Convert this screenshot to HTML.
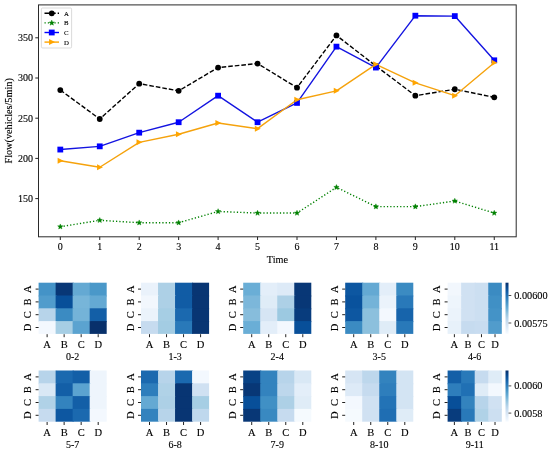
<!DOCTYPE html>
<html><head><meta charset="utf-8"><title>Flow chart</title>
<style>html,body{margin:0;padding:0;background:#fff;}svg{display:block}</style></head>
<body>
<svg width="550" height="452" viewBox="0 0 550 452">
<rect width="550" height="452" fill="#fff"/>
<g fill="none" stroke-width="1.4" stroke-linejoin="round">
<polyline points="60.30,90.06 99.75,119.00 139.20,83.63 178.65,90.86 218.10,67.55 257.55,63.53 297.00,87.65 336.45,35.39 375.90,65.94 415.35,95.69 454.80,89.26 494.25,97.30" stroke="#000" stroke-dasharray="4.6 2"/>
<polyline points="60.30,226.74 99.75,220.31 139.20,222.72 178.65,222.72 218.10,211.46 257.55,213.07 297.00,213.07 336.45,187.34 375.90,206.64 415.35,206.64 454.80,201.01 494.25,213.07" stroke="#008000" stroke-dasharray="1.25 2.06"/>
<polyline points="60.30,149.56 99.75,146.34 139.20,132.67 178.65,122.22 218.10,95.69 257.55,122.22 297.00,102.92 336.45,46.64 375.90,67.55 415.35,15.69 454.80,16.09 494.25,60.31" stroke="#1414e0"/>
<polyline points="60.30,160.81 99.75,167.24 139.20,142.32 178.65,134.28 218.10,123.02 257.55,128.65 297.00,99.71 336.45,90.86 375.90,64.33 415.35,82.82 454.80,95.69 494.25,62.72" stroke="#f5a20c"/>
</g>
<circle cx="60.30" cy="90.06" r="2.9000000000000004" fill="#000"/>
<circle cx="99.75" cy="119.00" r="2.9000000000000004" fill="#000"/>
<circle cx="139.20" cy="83.63" r="2.9000000000000004" fill="#000"/>
<circle cx="178.65" cy="90.86" r="2.9000000000000004" fill="#000"/>
<circle cx="218.10" cy="67.55" r="2.9000000000000004" fill="#000"/>
<circle cx="257.55" cy="63.53" r="2.9000000000000004" fill="#000"/>
<circle cx="297.00" cy="87.65" r="2.9000000000000004" fill="#000"/>
<circle cx="336.45" cy="35.39" r="2.9000000000000004" fill="#000"/>
<circle cx="375.90" cy="65.94" r="2.9000000000000004" fill="#000"/>
<circle cx="415.35" cy="95.69" r="2.9000000000000004" fill="#000"/>
<circle cx="454.80" cy="89.26" r="2.9000000000000004" fill="#000"/>
<circle cx="494.25" cy="97.30" r="2.9000000000000004" fill="#000"/>
<polygon points="60.30,223.94 61.04,225.72 62.96,225.87 61.50,227.13 61.95,229.01 60.30,228.00 58.65,229.01 59.10,227.13 57.64,225.87 59.56,225.72" fill="#008000" stroke="#008000" stroke-width="0.4" stroke-linejoin="miter"/>
<polygon points="99.75,217.51 100.49,219.29 102.41,219.44 100.95,220.70 101.40,222.57 99.75,221.57 98.10,222.57 98.55,220.70 97.09,219.44 99.01,219.29" fill="#008000" stroke="#008000" stroke-width="0.4" stroke-linejoin="miter"/>
<polygon points="139.20,219.92 139.94,221.70 141.86,221.85 140.40,223.11 140.85,224.99 139.20,223.98 137.55,224.99 138.00,223.11 136.54,221.85 138.46,221.70" fill="#008000" stroke="#008000" stroke-width="0.4" stroke-linejoin="miter"/>
<polygon points="178.65,219.92 179.39,221.70 181.31,221.85 179.85,223.11 180.30,224.99 178.65,223.98 177.00,224.99 177.45,223.11 175.99,221.85 177.91,221.70" fill="#008000" stroke="#008000" stroke-width="0.4" stroke-linejoin="miter"/>
<polygon points="218.10,208.66 218.84,210.44 220.76,210.60 219.30,211.85 219.75,213.73 218.10,212.72 216.45,213.73 216.90,211.85 215.44,210.60 217.36,210.44" fill="#008000" stroke="#008000" stroke-width="0.4" stroke-linejoin="miter"/>
<polygon points="257.55,210.27 258.29,212.05 260.21,212.21 258.75,213.46 259.20,215.34 257.55,214.33 255.90,215.34 256.35,213.46 254.89,212.21 256.81,212.05" fill="#008000" stroke="#008000" stroke-width="0.4" stroke-linejoin="miter"/>
<polygon points="297.00,210.27 297.74,212.05 299.66,212.21 298.20,213.46 298.65,215.34 297.00,214.33 295.35,215.34 295.80,213.46 294.34,212.21 296.26,212.05" fill="#008000" stroke="#008000" stroke-width="0.4" stroke-linejoin="miter"/>
<polygon points="336.45,184.54 337.19,186.32 339.11,186.48 337.65,187.73 338.10,189.61 336.45,188.60 334.80,189.61 335.25,187.73 333.79,186.48 335.71,186.32" fill="#008000" stroke="#008000" stroke-width="0.4" stroke-linejoin="miter"/>
<polygon points="375.90,203.84 376.64,205.62 378.56,205.77 377.10,207.03 377.55,208.91 375.90,207.90 374.25,208.91 374.70,207.03 373.24,205.77 375.16,205.62" fill="#008000" stroke="#008000" stroke-width="0.4" stroke-linejoin="miter"/>
<polygon points="415.35,203.84 416.09,205.62 418.01,205.77 416.55,207.03 417.00,208.91 415.35,207.90 413.70,208.91 414.15,207.03 412.69,205.77 414.61,205.62" fill="#008000" stroke="#008000" stroke-width="0.4" stroke-linejoin="miter"/>
<polygon points="454.80,198.21 455.54,199.99 457.46,200.15 456.00,201.40 456.45,203.28 454.80,202.27 453.15,203.28 453.60,201.40 452.14,200.15 454.06,199.99" fill="#008000" stroke="#008000" stroke-width="0.4" stroke-linejoin="miter"/>
<polygon points="494.25,210.27 494.99,212.05 496.91,212.21 495.45,213.46 495.90,215.34 494.25,214.33 492.60,215.34 493.05,213.46 491.59,212.21 493.51,212.05" fill="#008000" stroke="#008000" stroke-width="0.4" stroke-linejoin="miter"/>
<rect x="57.40" y="146.66" width="5.800000000000001" height="5.800000000000001" fill="#0000ff"/>
<rect x="96.85" y="143.44" width="5.800000000000001" height="5.800000000000001" fill="#0000ff"/>
<rect x="136.30" y="129.77" width="5.800000000000001" height="5.800000000000001" fill="#0000ff"/>
<rect x="175.75" y="119.32" width="5.800000000000001" height="5.800000000000001" fill="#0000ff"/>
<rect x="215.20" y="92.79" width="5.800000000000001" height="5.800000000000001" fill="#0000ff"/>
<rect x="254.65" y="119.32" width="5.800000000000001" height="5.800000000000001" fill="#0000ff"/>
<rect x="294.10" y="100.02" width="5.800000000000001" height="5.800000000000001" fill="#0000ff"/>
<rect x="333.55" y="43.74" width="5.800000000000001" height="5.800000000000001" fill="#0000ff"/>
<rect x="373.00" y="64.65" width="5.800000000000001" height="5.800000000000001" fill="#0000ff"/>
<rect x="412.45" y="12.79" width="5.800000000000001" height="5.800000000000001" fill="#0000ff"/>
<rect x="451.90" y="13.19" width="5.800000000000001" height="5.800000000000001" fill="#0000ff"/>
<rect x="491.35" y="57.41" width="5.800000000000001" height="5.800000000000001" fill="#0000ff"/>
<polygon points="57.60,157.81 63.50,160.81 57.60,163.81" fill="#ffa500"/>
<polygon points="97.05,164.24 102.95,167.24 97.05,170.24" fill="#ffa500"/>
<polygon points="136.50,139.32 142.40,142.32 136.50,145.32" fill="#ffa500"/>
<polygon points="175.95,131.28 181.85,134.28 175.95,137.28" fill="#ffa500"/>
<polygon points="215.40,120.02 221.30,123.02 215.40,126.02" fill="#ffa500"/>
<polygon points="254.85,125.65 260.75,128.65 254.85,131.65" fill="#ffa500"/>
<polygon points="294.30,96.71 300.20,99.71 294.30,102.71" fill="#ffa500"/>
<polygon points="333.75,87.86 339.65,90.86 333.75,93.86" fill="#ffa500"/>
<polygon points="373.20,61.33 379.10,64.33 373.20,67.33" fill="#ffa500"/>
<polygon points="412.65,79.82 418.55,82.82 412.65,85.82" fill="#ffa500"/>
<polygon points="452.10,92.69 458.00,95.69 452.10,98.69" fill="#ffa500"/>
<polygon points="491.55,59.72 497.45,62.72 491.55,65.72" fill="#ffa500"/>
<rect x="38.5" y="4.9" width="477.70000000000005" height="231.9" fill="none" stroke="#2a2a2a" stroke-width="1"/>
<g stroke="#222" stroke-width="1">
<line x1="60.30" y1="236.8" x2="60.30" y2="240.0"/>
<line x1="99.75" y1="236.8" x2="99.75" y2="240.0"/>
<line x1="139.20" y1="236.8" x2="139.20" y2="240.0"/>
<line x1="178.65" y1="236.8" x2="178.65" y2="240.0"/>
<line x1="218.10" y1="236.8" x2="218.10" y2="240.0"/>
<line x1="257.55" y1="236.8" x2="257.55" y2="240.0"/>
<line x1="297.00" y1="236.8" x2="297.00" y2="240.0"/>
<line x1="336.45" y1="236.8" x2="336.45" y2="240.0"/>
<line x1="375.90" y1="236.8" x2="375.90" y2="240.0"/>
<line x1="415.35" y1="236.8" x2="415.35" y2="240.0"/>
<line x1="454.80" y1="236.8" x2="454.80" y2="240.0"/>
<line x1="494.25" y1="236.8" x2="494.25" y2="240.0"/>
<line x1="38.5" y1="198.60" x2="35.3" y2="198.60"/>
<line x1="38.5" y1="158.40" x2="35.3" y2="158.40"/>
<line x1="38.5" y1="118.20" x2="35.3" y2="118.20"/>
<line x1="38.5" y1="78.00" x2="35.3" y2="78.00"/>
<line x1="38.5" y1="37.80" x2="35.3" y2="37.80"/>
</g>
<g font-family="Liberation Serif, serif" font-size="10" fill="#000" stroke="#000" stroke-width="0.12">
<text x="60.30" y="250.3" text-anchor="middle">0</text>
<text x="99.75" y="250.3" text-anchor="middle">1</text>
<text x="139.20" y="250.3" text-anchor="middle">2</text>
<text x="178.65" y="250.3" text-anchor="middle">3</text>
<text x="218.10" y="250.3" text-anchor="middle">4</text>
<text x="257.55" y="250.3" text-anchor="middle">5</text>
<text x="297.00" y="250.3" text-anchor="middle">6</text>
<text x="336.45" y="250.3" text-anchor="middle">7</text>
<text x="375.90" y="250.3" text-anchor="middle">8</text>
<text x="415.35" y="250.3" text-anchor="middle">9</text>
<text x="454.80" y="250.3" text-anchor="middle">10</text>
<text x="494.25" y="250.3" text-anchor="middle">11</text>
<text x="33.0" y="201.90" text-anchor="end">150</text>
<text x="33.0" y="161.70" text-anchor="end">200</text>
<text x="33.0" y="121.50" text-anchor="end">250</text>
<text x="33.0" y="81.30" text-anchor="end">300</text>
<text x="33.0" y="41.10" text-anchor="end">350</text>
<text x="277.35" y="263" text-anchor="middle" font-size="10.2">Time</text>
<text transform="translate(11.5,120.85) rotate(-90)" text-anchor="middle" font-size="10.25">Flow(vehicles/5min)</text>
</g>
<rect x="41.4" y="8.0" width="30.2" height="40" rx="1.2" fill="#fff" stroke="#ccc" stroke-width="0.7"/>
<line x1="44.5" y1="13.3" x2="59" y2="13.3" stroke="#000" stroke-width="1.4" stroke-dasharray="4.6 2"/>
<circle cx="51.75" cy="13.3" r="2.9000000000000004" fill="#000"/>
<text x="64" y="15.8" font-family="Liberation Serif, serif" font-size="6.8" fill="#000" stroke="#000" stroke-width="0.12">A</text>
<line x1="44.5" y1="22.9" x2="59" y2="22.9" stroke="#008000" stroke-width="1.4" stroke-dasharray="1.25 2.06"/>
<polygon points="51.75,20.10 52.49,21.88 54.41,22.03 52.95,23.29 53.40,25.17 51.75,24.16 50.10,25.17 50.55,23.29 49.09,22.03 51.01,21.88" fill="#008000" stroke="#008000" stroke-width="0.4"/>
<text x="64" y="25.4" font-family="Liberation Serif, serif" font-size="6.8" fill="#000" stroke="#000" stroke-width="0.12">B</text>
<line x1="44.5" y1="32.5" x2="59" y2="32.5" stroke="#0000ff" stroke-width="1.4"/>
<rect x="48.849999999999994" y="29.6" width="5.800000000000001" height="5.800000000000001" fill="#0000ff"/>
<text x="64" y="35.0" font-family="Liberation Serif, serif" font-size="6.8" fill="#000" stroke="#000" stroke-width="0.12">C</text>
<line x1="44.5" y1="42.1" x2="59" y2="42.1" stroke="#ffa500" stroke-width="1.4"/>
<polygon points="49.05,39.1 54.95,42.1 49.05,45.1" fill="#ffa500"/>
<text x="64" y="44.6" font-family="Liberation Serif, serif" font-size="6.8" fill="#000" stroke="#000" stroke-width="0.12">D</text>
<defs><linearGradient id="cb" x1="0" y1="1" x2="0" y2="0">
<stop offset="0.0" stop-color="#f7fbff"/>
<stop offset="0.1" stop-color="#e3eef9"/>
<stop offset="0.2" stop-color="#d0e1f2"/>
<stop offset="0.3" stop-color="#b7d4ea"/>
<stop offset="0.4" stop-color="#94c4df"/>
<stop offset="0.5" stop-color="#6aaed6"/>
<stop offset="0.6" stop-color="#4a98c9"/>
<stop offset="0.7" stop-color="#2e7ebc"/>
<stop offset="0.8" stop-color="#1764ab"/>
<stop offset="0.9" stop-color="#084a91"/>
<stop offset="1.0" stop-color="#08306b"/>
</linearGradient></defs>
<rect x="38.60" y="282.70" width="18.02" height="13.80" fill="#4493c7"/>
<rect x="55.62" y="282.70" width="18.02" height="13.80" fill="#083776"/>
<rect x="72.65" y="282.70" width="18.02" height="13.80" fill="#64a9d3"/>
<rect x="89.67" y="282.70" width="17.02" height="13.80" fill="#4a98c9"/>
<rect x="38.60" y="295.50" width="18.02" height="13.80" fill="#519ccc"/>
<rect x="55.62" y="295.50" width="18.02" height="13.80" fill="#084f99"/>
<rect x="72.65" y="295.50" width="18.02" height="13.80" fill="#77b5d9"/>
<rect x="89.67" y="295.50" width="17.02" height="13.80" fill="#64a9d3"/>
<rect x="38.60" y="308.30" width="18.02" height="13.80" fill="#b7d4ea"/>
<rect x="55.62" y="308.30" width="18.02" height="13.80" fill="#3b8bc2"/>
<rect x="72.65" y="308.30" width="18.02" height="13.80" fill="#74b3d8"/>
<rect x="89.67" y="308.30" width="17.02" height="13.80" fill="#135fa7"/>
<rect x="38.60" y="321.10" width="18.02" height="12.80" fill="#f3f8fe"/>
<rect x="55.62" y="321.10" width="18.02" height="12.80" fill="#a6cee4"/>
<rect x="72.65" y="321.10" width="18.02" height="12.80" fill="#5ba3d0"/>
<rect x="89.67" y="321.10" width="17.02" height="12.80" fill="#08306b"/>
<g stroke="#222" stroke-width="1">
<line x1="47.11" y1="334.20" x2="47.11" y2="337.20"/>
<line x1="64.14" y1="334.20" x2="64.14" y2="337.20"/>
<line x1="81.16" y1="334.20" x2="81.16" y2="337.20"/>
<line x1="98.19" y1="334.20" x2="98.19" y2="337.20"/>
<line x1="38.60" y1="289.10" x2="35.60" y2="289.10"/>
<line x1="38.60" y1="301.90" x2="35.60" y2="301.90"/>
<line x1="38.60" y1="314.70" x2="35.60" y2="314.70"/>
<line x1="38.60" y1="327.50" x2="35.60" y2="327.50"/>
</g>
<g font-family="Liberation Serif, serif" font-size="10.5" fill="#000" stroke="#000" stroke-width="0.12">
<text x="47.11" y="347.90" text-anchor="middle">A</text>
<text x="64.14" y="347.90" text-anchor="middle">B</text>
<text x="81.16" y="347.90" text-anchor="middle">C</text>
<text x="98.19" y="347.90" text-anchor="middle">D</text>
<text transform="translate(31.20,289.10) rotate(-90)" text-anchor="middle">A</text>
<text transform="translate(31.20,301.90) rotate(-90)" text-anchor="middle">B</text>
<text transform="translate(31.20,314.70) rotate(-90)" text-anchor="middle">C</text>
<text transform="translate(31.20,327.50) rotate(-90)" text-anchor="middle">D</text>
<text x="72.65" y="360.00" text-anchor="middle" font-size="10">0-2</text>
</g>
<rect x="141.00" y="282.70" width="18.02" height="13.80" fill="#eaf2fb"/>
<rect x="158.03" y="282.70" width="18.02" height="13.80" fill="#add0e6"/>
<rect x="175.05" y="282.70" width="18.02" height="13.80" fill="#115ca5"/>
<rect x="192.07" y="282.70" width="17.02" height="13.80" fill="#083573"/>
<rect x="141.00" y="295.50" width="18.02" height="13.80" fill="#f2f7fd"/>
<rect x="158.03" y="295.50" width="18.02" height="13.80" fill="#add0e6"/>
<rect x="175.05" y="295.50" width="18.02" height="13.80" fill="#115ca5"/>
<rect x="192.07" y="295.50" width="17.02" height="13.80" fill="#083573"/>
<rect x="141.00" y="308.30" width="18.02" height="13.80" fill="#ebf3fb"/>
<rect x="158.03" y="308.30" width="18.02" height="13.80" fill="#a6cee4"/>
<rect x="175.05" y="308.30" width="18.02" height="13.80" fill="#1b69af"/>
<rect x="192.07" y="308.30" width="17.02" height="13.80" fill="#083573"/>
<rect x="141.00" y="321.10" width="18.02" height="12.80" fill="#c6dbef"/>
<rect x="158.03" y="321.10" width="18.02" height="12.80" fill="#a3cce3"/>
<rect x="175.05" y="321.10" width="18.02" height="12.80" fill="#2979b9"/>
<rect x="192.07" y="321.10" width="17.02" height="12.80" fill="#083573"/>
<g stroke="#222" stroke-width="1">
<line x1="149.51" y1="334.20" x2="149.51" y2="337.20"/>
<line x1="166.54" y1="334.20" x2="166.54" y2="337.20"/>
<line x1="183.56" y1="334.20" x2="183.56" y2="337.20"/>
<line x1="200.59" y1="334.20" x2="200.59" y2="337.20"/>
<line x1="141.00" y1="289.10" x2="138.00" y2="289.10"/>
<line x1="141.00" y1="301.90" x2="138.00" y2="301.90"/>
<line x1="141.00" y1="314.70" x2="138.00" y2="314.70"/>
<line x1="141.00" y1="327.50" x2="138.00" y2="327.50"/>
</g>
<g font-family="Liberation Serif, serif" font-size="10.5" fill="#000" stroke="#000" stroke-width="0.12">
<text x="149.51" y="347.90" text-anchor="middle">A</text>
<text x="166.54" y="347.90" text-anchor="middle">B</text>
<text x="183.56" y="347.90" text-anchor="middle">C</text>
<text x="200.59" y="347.90" text-anchor="middle">D</text>
<text transform="translate(133.60,289.10) rotate(-90)" text-anchor="middle">A</text>
<text transform="translate(133.60,301.90) rotate(-90)" text-anchor="middle">B</text>
<text transform="translate(133.60,314.70) rotate(-90)" text-anchor="middle">C</text>
<text transform="translate(133.60,327.50) rotate(-90)" text-anchor="middle">D</text>
<text x="175.05" y="360.00" text-anchor="middle" font-size="10">1-3</text>
</g>
<rect x="243.20" y="282.70" width="18.02" height="13.80" fill="#6aaed6"/>
<rect x="260.22" y="282.70" width="18.02" height="13.80" fill="#e3eef9"/>
<rect x="277.25" y="282.70" width="18.02" height="13.80" fill="#ddeaf7"/>
<rect x="294.27" y="282.70" width="17.02" height="13.80" fill="#083776"/>
<rect x="243.20" y="295.50" width="18.02" height="13.80" fill="#7cb7da"/>
<rect x="260.22" y="295.50" width="18.02" height="13.80" fill="#dfecf7"/>
<rect x="277.25" y="295.50" width="18.02" height="13.80" fill="#add0e6"/>
<rect x="294.27" y="295.50" width="17.02" height="13.80" fill="#083776"/>
<rect x="243.20" y="308.30" width="18.02" height="13.80" fill="#87bddc"/>
<rect x="260.22" y="308.30" width="18.02" height="13.80" fill="#d6e5f4"/>
<rect x="277.25" y="308.30" width="18.02" height="13.80" fill="#9cc9e1"/>
<rect x="294.27" y="308.30" width="17.02" height="13.80" fill="#083c7d"/>
<rect x="243.20" y="321.10" width="18.02" height="12.80" fill="#6aaed6"/>
<rect x="260.22" y="321.10" width="18.02" height="12.80" fill="#e3eef9"/>
<rect x="277.25" y="321.10" width="18.02" height="12.80" fill="#f3f8fe"/>
<rect x="294.27" y="321.10" width="17.02" height="12.80" fill="#084f99"/>
<g stroke="#222" stroke-width="1">
<line x1="251.71" y1="334.20" x2="251.71" y2="337.20"/>
<line x1="268.74" y1="334.20" x2="268.74" y2="337.20"/>
<line x1="285.76" y1="334.20" x2="285.76" y2="337.20"/>
<line x1="302.79" y1="334.20" x2="302.79" y2="337.20"/>
<line x1="243.20" y1="289.10" x2="240.20" y2="289.10"/>
<line x1="243.20" y1="301.90" x2="240.20" y2="301.90"/>
<line x1="243.20" y1="314.70" x2="240.20" y2="314.70"/>
<line x1="243.20" y1="327.50" x2="240.20" y2="327.50"/>
</g>
<g font-family="Liberation Serif, serif" font-size="10.5" fill="#000" stroke="#000" stroke-width="0.12">
<text x="251.71" y="347.90" text-anchor="middle">A</text>
<text x="268.74" y="347.90" text-anchor="middle">B</text>
<text x="285.76" y="347.90" text-anchor="middle">C</text>
<text x="302.79" y="347.90" text-anchor="middle">D</text>
<text transform="translate(235.80,289.10) rotate(-90)" text-anchor="middle">A</text>
<text transform="translate(235.80,301.90) rotate(-90)" text-anchor="middle">B</text>
<text transform="translate(235.80,314.70) rotate(-90)" text-anchor="middle">C</text>
<text transform="translate(235.80,327.50) rotate(-90)" text-anchor="middle">D</text>
<text x="277.25" y="360.00" text-anchor="middle" font-size="10">2-4</text>
</g>
<rect x="345.20" y="282.70" width="18.02" height="13.80" fill="#0d57a1"/>
<rect x="362.22" y="282.70" width="18.02" height="13.80" fill="#64a9d3"/>
<rect x="379.25" y="282.70" width="18.02" height="13.80" fill="#e3eef9"/>
<rect x="396.27" y="282.70" width="17.02" height="13.80" fill="#3b8bc2"/>
<rect x="345.20" y="295.50" width="18.02" height="13.80" fill="#09529d"/>
<rect x="362.22" y="295.50" width="18.02" height="13.80" fill="#74b3d8"/>
<rect x="379.25" y="295.50" width="18.02" height="13.80" fill="#ebf3fb"/>
<rect x="396.27" y="295.50" width="17.02" height="13.80" fill="#2979b9"/>
<rect x="345.20" y="308.30" width="18.02" height="13.80" fill="#0d57a1"/>
<rect x="362.22" y="308.30" width="18.02" height="13.80" fill="#8cc0dd"/>
<rect x="379.25" y="308.30" width="18.02" height="13.80" fill="#f3f8fe"/>
<rect x="396.27" y="308.30" width="17.02" height="13.80" fill="#1764ab"/>
<rect x="345.20" y="321.10" width="18.02" height="12.80" fill="#3b8bc2"/>
<rect x="362.22" y="321.10" width="18.02" height="12.80" fill="#8cc0dd"/>
<rect x="379.25" y="321.10" width="18.02" height="12.80" fill="#dfecf7"/>
<rect x="396.27" y="321.10" width="17.02" height="12.80" fill="#2979b9"/>
<g stroke="#222" stroke-width="1">
<line x1="353.71" y1="334.20" x2="353.71" y2="337.20"/>
<line x1="370.74" y1="334.20" x2="370.74" y2="337.20"/>
<line x1="387.76" y1="334.20" x2="387.76" y2="337.20"/>
<line x1="404.79" y1="334.20" x2="404.79" y2="337.20"/>
<line x1="345.20" y1="289.10" x2="342.20" y2="289.10"/>
<line x1="345.20" y1="301.90" x2="342.20" y2="301.90"/>
<line x1="345.20" y1="314.70" x2="342.20" y2="314.70"/>
<line x1="345.20" y1="327.50" x2="342.20" y2="327.50"/>
</g>
<g font-family="Liberation Serif, serif" font-size="10.5" fill="#000" stroke="#000" stroke-width="0.12">
<text x="353.71" y="347.90" text-anchor="middle">A</text>
<text x="370.74" y="347.90" text-anchor="middle">B</text>
<text x="387.76" y="347.90" text-anchor="middle">C</text>
<text x="404.79" y="347.90" text-anchor="middle">D</text>
<text transform="translate(337.80,289.10) rotate(-90)" text-anchor="middle">A</text>
<text transform="translate(337.80,301.90) rotate(-90)" text-anchor="middle">B</text>
<text transform="translate(337.80,314.70) rotate(-90)" text-anchor="middle">C</text>
<text transform="translate(337.80,327.50) rotate(-90)" text-anchor="middle">D</text>
<text x="379.25" y="360.00" text-anchor="middle" font-size="10">3-5</text>
</g>
<rect x="447.60" y="282.70" width="14.55" height="13.80" fill="#f2f7fd"/>
<rect x="461.15" y="282.70" width="14.55" height="13.80" fill="#d0e1f2"/>
<rect x="474.70" y="282.70" width="14.55" height="13.80" fill="#ccdff1"/>
<rect x="488.25" y="282.70" width="13.55" height="13.80" fill="#3b8bc2"/>
<rect x="447.60" y="295.50" width="14.55" height="13.80" fill="#eef5fc"/>
<rect x="461.15" y="295.50" width="14.55" height="13.80" fill="#d0e1f2"/>
<rect x="474.70" y="295.50" width="14.55" height="13.80" fill="#ccdff1"/>
<rect x="488.25" y="295.50" width="13.55" height="13.80" fill="#4090c5"/>
<rect x="447.60" y="308.30" width="14.55" height="13.80" fill="#ebf3fb"/>
<rect x="461.15" y="308.30" width="14.55" height="13.80" fill="#d0e1f2"/>
<rect x="474.70" y="308.30" width="14.55" height="13.80" fill="#ccdff1"/>
<rect x="488.25" y="308.30" width="13.55" height="13.80" fill="#4493c7"/>
<rect x="447.60" y="321.10" width="14.55" height="12.80" fill="#e7f1fa"/>
<rect x="461.15" y="321.10" width="14.55" height="12.80" fill="#c6dbef"/>
<rect x="474.70" y="321.10" width="14.55" height="12.80" fill="#c8dcf0"/>
<rect x="488.25" y="321.10" width="13.55" height="12.80" fill="#519ccc"/>
<g stroke="#222" stroke-width="1">
<line x1="454.38" y1="334.20" x2="454.38" y2="337.20"/>
<line x1="467.93" y1="334.20" x2="467.93" y2="337.20"/>
<line x1="481.48" y1="334.20" x2="481.48" y2="337.20"/>
<line x1="495.03" y1="334.20" x2="495.03" y2="337.20"/>
<line x1="447.60" y1="289.10" x2="444.60" y2="289.10"/>
<line x1="447.60" y1="301.90" x2="444.60" y2="301.90"/>
<line x1="447.60" y1="314.70" x2="444.60" y2="314.70"/>
<line x1="447.60" y1="327.50" x2="444.60" y2="327.50"/>
</g>
<g font-family="Liberation Serif, serif" font-size="10.5" fill="#000" stroke="#000" stroke-width="0.12">
<text x="454.38" y="347.90" text-anchor="middle">A</text>
<text x="467.93" y="347.90" text-anchor="middle">B</text>
<text x="481.48" y="347.90" text-anchor="middle">C</text>
<text x="495.03" y="347.90" text-anchor="middle">D</text>
<text transform="translate(440.20,289.10) rotate(-90)" text-anchor="middle">A</text>
<text transform="translate(440.20,301.90) rotate(-90)" text-anchor="middle">B</text>
<text transform="translate(440.20,314.70) rotate(-90)" text-anchor="middle">C</text>
<text transform="translate(440.20,327.50) rotate(-90)" text-anchor="middle">D</text>
<text x="474.70" y="360.00" text-anchor="middle" font-size="10">4-6</text>
</g>
<rect x="505.5" y="282.7" width="3" height="51.2" fill="url(#cb)"/>
<line x1="508.5" y1="295.5" x2="511.3" y2="295.5" stroke="#222" stroke-width="0.8"/>
<text x="514.2" y="299.0" font-family="Liberation Serif, serif" font-size="10.3" fill="#000" stroke="#000" stroke-width="0.12">0.00600</text>
<line x1="508.5" y1="323.0" x2="511.3" y2="323.0" stroke="#222" stroke-width="0.8"/>
<text x="514.2" y="326.5" font-family="Liberation Serif, serif" font-size="10.3" fill="#000" stroke="#000" stroke-width="0.12">0.00575</text>
<rect x="38.60" y="370.50" width="18.02" height="13.80" fill="#b7d4ea"/>
<rect x="55.62" y="370.50" width="18.02" height="13.80" fill="#1b69af"/>
<rect x="72.65" y="370.50" width="18.02" height="13.80" fill="#135fa7"/>
<rect x="89.67" y="370.50" width="17.02" height="13.80" fill="#eef5fc"/>
<rect x="38.60" y="383.30" width="18.02" height="13.80" fill="#d9e8f5"/>
<rect x="55.62" y="383.30" width="18.02" height="13.80" fill="#135fa7"/>
<rect x="72.65" y="383.30" width="18.02" height="13.80" fill="#5ba3d0"/>
<rect x="89.67" y="383.30" width="17.02" height="13.80" fill="#eef5fc"/>
<rect x="38.60" y="396.10" width="18.02" height="13.80" fill="#b0d2e7"/>
<rect x="55.62" y="396.10" width="18.02" height="13.80" fill="#3383be"/>
<rect x="72.65" y="396.10" width="18.02" height="13.80" fill="#135fa7"/>
<rect x="89.67" y="396.10" width="17.02" height="13.80" fill="#eef5fc"/>
<rect x="38.60" y="408.90" width="18.02" height="12.80" fill="#c6dbef"/>
<rect x="55.62" y="408.90" width="18.02" height="12.80" fill="#0d57a1"/>
<rect x="72.65" y="408.90" width="18.02" height="12.80" fill="#1b69af"/>
<rect x="89.67" y="408.90" width="17.02" height="12.80" fill="#f3f8fe"/>
<g stroke="#222" stroke-width="1">
<line x1="47.11" y1="422.00" x2="47.11" y2="425.00"/>
<line x1="64.14" y1="422.00" x2="64.14" y2="425.00"/>
<line x1="81.16" y1="422.00" x2="81.16" y2="425.00"/>
<line x1="98.19" y1="422.00" x2="98.19" y2="425.00"/>
<line x1="38.60" y1="376.90" x2="35.60" y2="376.90"/>
<line x1="38.60" y1="389.70" x2="35.60" y2="389.70"/>
<line x1="38.60" y1="402.50" x2="35.60" y2="402.50"/>
<line x1="38.60" y1="415.30" x2="35.60" y2="415.30"/>
</g>
<g font-family="Liberation Serif, serif" font-size="10.5" fill="#000" stroke="#000" stroke-width="0.12">
<text x="47.11" y="435.70" text-anchor="middle">A</text>
<text x="64.14" y="435.70" text-anchor="middle">B</text>
<text x="81.16" y="435.70" text-anchor="middle">C</text>
<text x="98.19" y="435.70" text-anchor="middle">D</text>
<text transform="translate(31.20,376.90) rotate(-90)" text-anchor="middle">A</text>
<text transform="translate(31.20,389.70) rotate(-90)" text-anchor="middle">B</text>
<text transform="translate(31.20,402.50) rotate(-90)" text-anchor="middle">C</text>
<text transform="translate(31.20,415.30) rotate(-90)" text-anchor="middle">D</text>
<text x="72.65" y="447.80" text-anchor="middle" font-size="10">5-7</text>
</g>
<rect x="141.00" y="370.50" width="18.02" height="13.80" fill="#1b69af"/>
<rect x="158.03" y="370.50" width="18.02" height="13.80" fill="#b7d4ea"/>
<rect x="175.05" y="370.50" width="18.02" height="13.80" fill="#1b69af"/>
<rect x="192.07" y="370.50" width="17.02" height="13.80" fill="#f3f8fe"/>
<rect x="141.00" y="383.30" width="18.02" height="13.80" fill="#2e7ebc"/>
<rect x="158.03" y="383.30" width="18.02" height="13.80" fill="#b0d2e7"/>
<rect x="175.05" y="383.30" width="18.02" height="13.80" fill="#083573"/>
<rect x="192.07" y="383.30" width="17.02" height="13.80" fill="#d0e1f2"/>
<rect x="141.00" y="396.10" width="18.02" height="13.80" fill="#64a9d3"/>
<rect x="158.03" y="396.10" width="18.02" height="13.80" fill="#add0e6"/>
<rect x="175.05" y="396.10" width="18.02" height="13.80" fill="#083573"/>
<rect x="192.07" y="396.10" width="17.02" height="13.80" fill="#a6cee4"/>
<rect x="141.00" y="408.90" width="18.02" height="12.80" fill="#3383be"/>
<rect x="158.03" y="408.90" width="18.02" height="12.80" fill="#b7d4ea"/>
<rect x="175.05" y="408.90" width="18.02" height="12.80" fill="#083573"/>
<rect x="192.07" y="408.90" width="17.02" height="12.80" fill="#bfd8ed"/>
<g stroke="#222" stroke-width="1">
<line x1="149.51" y1="422.00" x2="149.51" y2="425.00"/>
<line x1="166.54" y1="422.00" x2="166.54" y2="425.00"/>
<line x1="183.56" y1="422.00" x2="183.56" y2="425.00"/>
<line x1="200.59" y1="422.00" x2="200.59" y2="425.00"/>
<line x1="141.00" y1="376.90" x2="138.00" y2="376.90"/>
<line x1="141.00" y1="389.70" x2="138.00" y2="389.70"/>
<line x1="141.00" y1="402.50" x2="138.00" y2="402.50"/>
<line x1="141.00" y1="415.30" x2="138.00" y2="415.30"/>
</g>
<g font-family="Liberation Serif, serif" font-size="10.5" fill="#000" stroke="#000" stroke-width="0.12">
<text x="149.51" y="435.70" text-anchor="middle">A</text>
<text x="166.54" y="435.70" text-anchor="middle">B</text>
<text x="183.56" y="435.70" text-anchor="middle">C</text>
<text x="200.59" y="435.70" text-anchor="middle">D</text>
<text transform="translate(133.60,376.90) rotate(-90)" text-anchor="middle">A</text>
<text transform="translate(133.60,389.70) rotate(-90)" text-anchor="middle">B</text>
<text transform="translate(133.60,402.50) rotate(-90)" text-anchor="middle">C</text>
<text transform="translate(133.60,415.30) rotate(-90)" text-anchor="middle">D</text>
<text x="175.05" y="447.80" text-anchor="middle" font-size="10">6-8</text>
</g>
<rect x="243.20" y="370.50" width="18.02" height="13.80" fill="#084285"/>
<rect x="260.22" y="370.50" width="18.02" height="13.80" fill="#3383be"/>
<rect x="277.25" y="370.50" width="18.02" height="13.80" fill="#b7d4ea"/>
<rect x="294.27" y="370.50" width="17.02" height="13.80" fill="#d9e8f5"/>
<rect x="243.20" y="383.30" width="18.02" height="13.80" fill="#083776"/>
<rect x="260.22" y="383.30" width="18.02" height="13.80" fill="#3383be"/>
<rect x="277.25" y="383.30" width="18.02" height="13.80" fill="#bdd7ec"/>
<rect x="294.27" y="383.30" width="17.02" height="13.80" fill="#e3eef9"/>
<rect x="243.20" y="396.10" width="18.02" height="13.80" fill="#084f99"/>
<rect x="260.22" y="396.10" width="18.02" height="13.80" fill="#4090c5"/>
<rect x="277.25" y="396.10" width="18.02" height="13.80" fill="#add0e6"/>
<rect x="294.27" y="396.10" width="17.02" height="13.80" fill="#dfecf7"/>
<rect x="243.20" y="408.90" width="18.02" height="12.80" fill="#083776"/>
<rect x="260.22" y="408.90" width="18.02" height="12.80" fill="#3989c1"/>
<rect x="277.25" y="408.90" width="18.02" height="12.80" fill="#c6dbef"/>
<rect x="294.27" y="408.90" width="17.02" height="12.80" fill="#f5fafe"/>
<g stroke="#222" stroke-width="1">
<line x1="251.71" y1="422.00" x2="251.71" y2="425.00"/>
<line x1="268.74" y1="422.00" x2="268.74" y2="425.00"/>
<line x1="285.76" y1="422.00" x2="285.76" y2="425.00"/>
<line x1="302.79" y1="422.00" x2="302.79" y2="425.00"/>
<line x1="243.20" y1="376.90" x2="240.20" y2="376.90"/>
<line x1="243.20" y1="389.70" x2="240.20" y2="389.70"/>
<line x1="243.20" y1="402.50" x2="240.20" y2="402.50"/>
<line x1="243.20" y1="415.30" x2="240.20" y2="415.30"/>
</g>
<g font-family="Liberation Serif, serif" font-size="10.5" fill="#000" stroke="#000" stroke-width="0.12">
<text x="251.71" y="435.70" text-anchor="middle">A</text>
<text x="268.74" y="435.70" text-anchor="middle">B</text>
<text x="285.76" y="435.70" text-anchor="middle">C</text>
<text x="302.79" y="435.70" text-anchor="middle">D</text>
<text transform="translate(235.80,376.90) rotate(-90)" text-anchor="middle">A</text>
<text transform="translate(235.80,389.70) rotate(-90)" text-anchor="middle">B</text>
<text transform="translate(235.80,402.50) rotate(-90)" text-anchor="middle">C</text>
<text transform="translate(235.80,415.30) rotate(-90)" text-anchor="middle">D</text>
<text x="277.25" y="447.80" text-anchor="middle" font-size="10">7-9</text>
</g>
<rect x="345.20" y="370.50" width="18.02" height="13.80" fill="#d6e5f4"/>
<rect x="362.22" y="370.50" width="18.02" height="13.80" fill="#bdd7ec"/>
<rect x="379.25" y="370.50" width="18.02" height="13.80" fill="#3383be"/>
<rect x="396.27" y="370.50" width="17.02" height="13.80" fill="#d3e4f3"/>
<rect x="345.20" y="383.30" width="18.02" height="13.80" fill="#ddeaf7"/>
<rect x="362.22" y="383.30" width="18.02" height="13.80" fill="#c6dbef"/>
<rect x="379.25" y="383.30" width="18.02" height="13.80" fill="#2e7ebc"/>
<rect x="396.27" y="383.30" width="17.02" height="13.80" fill="#d3e4f3"/>
<rect x="345.20" y="396.10" width="18.02" height="13.80" fill="#f3f8fe"/>
<rect x="362.22" y="396.10" width="18.02" height="13.80" fill="#d0e1f2"/>
<rect x="379.25" y="396.10" width="18.02" height="13.80" fill="#2373b6"/>
<rect x="396.27" y="396.10" width="17.02" height="13.80" fill="#d3e4f3"/>
<rect x="345.20" y="408.90" width="18.02" height="12.80" fill="#f5fafe"/>
<rect x="362.22" y="408.90" width="18.02" height="12.80" fill="#d0e1f2"/>
<rect x="379.25" y="408.90" width="18.02" height="12.80" fill="#1f6eb3"/>
<rect x="396.27" y="408.90" width="17.02" height="12.80" fill="#dfecf7"/>
<g stroke="#222" stroke-width="1">
<line x1="353.71" y1="422.00" x2="353.71" y2="425.00"/>
<line x1="370.74" y1="422.00" x2="370.74" y2="425.00"/>
<line x1="387.76" y1="422.00" x2="387.76" y2="425.00"/>
<line x1="404.79" y1="422.00" x2="404.79" y2="425.00"/>
<line x1="345.20" y1="376.90" x2="342.20" y2="376.90"/>
<line x1="345.20" y1="389.70" x2="342.20" y2="389.70"/>
<line x1="345.20" y1="402.50" x2="342.20" y2="402.50"/>
<line x1="345.20" y1="415.30" x2="342.20" y2="415.30"/>
</g>
<g font-family="Liberation Serif, serif" font-size="10.5" fill="#000" stroke="#000" stroke-width="0.12">
<text x="353.71" y="435.70" text-anchor="middle">A</text>
<text x="370.74" y="435.70" text-anchor="middle">B</text>
<text x="387.76" y="435.70" text-anchor="middle">C</text>
<text x="404.79" y="435.70" text-anchor="middle">D</text>
<text transform="translate(337.80,376.90) rotate(-90)" text-anchor="middle">A</text>
<text transform="translate(337.80,389.70) rotate(-90)" text-anchor="middle">B</text>
<text transform="translate(337.80,402.50) rotate(-90)" text-anchor="middle">C</text>
<text transform="translate(337.80,415.30) rotate(-90)" text-anchor="middle">D</text>
<text x="379.25" y="447.80" text-anchor="middle" font-size="10">8-10</text>
</g>
<rect x="447.60" y="370.50" width="14.55" height="13.80" fill="#135fa7"/>
<rect x="461.15" y="370.50" width="14.55" height="13.80" fill="#2979b9"/>
<rect x="474.70" y="370.50" width="14.55" height="13.80" fill="#c6dbef"/>
<rect x="488.25" y="370.50" width="13.55" height="13.80" fill="#dfecf7"/>
<rect x="447.60" y="383.30" width="14.55" height="13.80" fill="#2e7ebc"/>
<rect x="461.15" y="383.30" width="14.55" height="13.80" fill="#2070b4"/>
<rect x="474.70" y="383.30" width="14.55" height="13.80" fill="#dfecf7"/>
<rect x="488.25" y="383.30" width="13.55" height="13.80" fill="#f3f8fe"/>
<rect x="447.60" y="396.10" width="14.55" height="13.80" fill="#084f99"/>
<rect x="461.15" y="396.10" width="14.55" height="13.80" fill="#3383be"/>
<rect x="474.70" y="396.10" width="14.55" height="13.80" fill="#b7d4ea"/>
<rect x="488.25" y="396.10" width="13.55" height="13.80" fill="#d0e1f2"/>
<rect x="447.60" y="408.90" width="14.55" height="12.80" fill="#083c7d"/>
<rect x="461.15" y="408.90" width="14.55" height="12.80" fill="#2979b9"/>
<rect x="474.70" y="408.90" width="14.55" height="12.80" fill="#b0d2e7"/>
<rect x="488.25" y="408.90" width="13.55" height="12.80" fill="#ccdff1"/>
<g stroke="#222" stroke-width="1">
<line x1="454.38" y1="422.00" x2="454.38" y2="425.00"/>
<line x1="467.93" y1="422.00" x2="467.93" y2="425.00"/>
<line x1="481.48" y1="422.00" x2="481.48" y2="425.00"/>
<line x1="495.03" y1="422.00" x2="495.03" y2="425.00"/>
<line x1="447.60" y1="376.90" x2="444.60" y2="376.90"/>
<line x1="447.60" y1="389.70" x2="444.60" y2="389.70"/>
<line x1="447.60" y1="402.50" x2="444.60" y2="402.50"/>
<line x1="447.60" y1="415.30" x2="444.60" y2="415.30"/>
</g>
<g font-family="Liberation Serif, serif" font-size="10.5" fill="#000" stroke="#000" stroke-width="0.12">
<text x="454.38" y="435.70" text-anchor="middle">A</text>
<text x="467.93" y="435.70" text-anchor="middle">B</text>
<text x="481.48" y="435.70" text-anchor="middle">C</text>
<text x="495.03" y="435.70" text-anchor="middle">D</text>
<text transform="translate(440.20,376.90) rotate(-90)" text-anchor="middle">A</text>
<text transform="translate(440.20,389.70) rotate(-90)" text-anchor="middle">B</text>
<text transform="translate(440.20,402.50) rotate(-90)" text-anchor="middle">C</text>
<text transform="translate(440.20,415.30) rotate(-90)" text-anchor="middle">D</text>
<text x="474.70" y="447.80" text-anchor="middle" font-size="10">9-11</text>
</g>
<rect x="505.5" y="370.5" width="3" height="51.2" fill="url(#cb)"/>
<line x1="508.5" y1="385.9" x2="511.3" y2="385.9" stroke="#222" stroke-width="0.8"/>
<text x="514.2" y="389.4" font-family="Liberation Serif, serif" font-size="10.3" fill="#000" stroke="#000" stroke-width="0.12">0.0060</text>
<line x1="508.5" y1="413.1" x2="511.3" y2="413.1" stroke="#222" stroke-width="0.8"/>
<text x="514.2" y="416.6" font-family="Liberation Serif, serif" font-size="10.3" fill="#000" stroke="#000" stroke-width="0.12">0.0058</text>
</svg>
</body></html>
